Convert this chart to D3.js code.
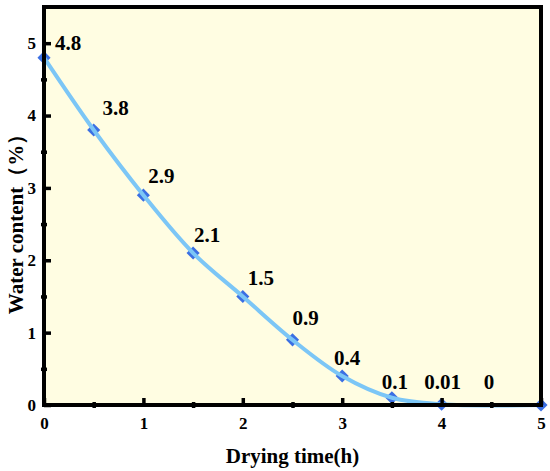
<!DOCTYPE html>
<html>
<head>
    <meta charset="utf-8">
    <title>Water content vs drying time</title>
    <script src="https://d3js.org/d3.v7.min.js"></script>
    <style>
        body { margin: 0; background: #fff; }
        text { font-family: "Liberation Serif", "Times New Roman", serif; font-weight: bold; fill: #000; }
    </style>
</head>
<body>
    <div id="chart"></div>
    <script>
        // data
        var dryingTime = [0, 0.5, 1, 1.5, 2, 2.5, 3, 3.5, 4, 5];
        var waterContent = [4.8, 3.8, 2.9, 2.1, 1.5, 0.9, 0.4, 0.1, 0.01, 0];
        var pointLabels = ["4.8", "3.8", "2.9", "2.1", "1.5", "0.9", "0.4", "0.1", "0.01", "0"];
        var xTicks = [0, 1, 2, 3, 4, 5];
        var yTicks = [0, 1, 2, 3, 4, 5];

        // hand placement of the value labels (pixels from each point)
        var labelShift = [[24, -8], [22, -15], [18, -12], [14, -11], [18, -11],
                          [13, -15], [5, -11], [3, -9], [1, -15], [-52, -16]];

        var width = 550, height = 471;
        // plot box (note: "top" is reserved on window, so use pLeft etc.)
        var pLeft = 44, pRight = 541, pTop = 7, pBottom = 405;

        var svg = d3.select("#chart").append("svg")
            .attr("width", width)
            .attr("height", height);

        var x = d3.scaleLinear().domain([0, 5]).range([pLeft, pRight]);
        var y = d3.scaleLinear().domain([0, 5.5]).range([pBottom, pTop]);

        // plot background
        svg.append("rect")
            .attr("x", pLeft).attr("y", pTop)
            .attr("width", pRight - pLeft).attr("height", pBottom - pTop)
            .attr("fill", "#fffde2");

        var pts = dryingTime.map(function (t, i) { return [t, waterContent[i]]; });

        // markers under the line
        svg.selectAll("path.mark")
            .data(pts)
            .enter()
            .append("path")
            .attr("class", "mark")
            .attr("d", d3.symbol().type(d3.symbolDiamond2).size(110))
            .attr("transform", function (d) { return "translate(" + x(d[0]) + "," + y(d[1]) + ")"; })
            .attr("fill", "#3b6fe3");

        var line = d3.line()
            .x(function (d) { return x(d[0]); })
            .y(function (d) { return y(d[1]); })
            .curve(d3.curveCatmullRom.alpha(0.5));

        svg.append("path")
            .datum(pts)
            .attr("d", line)
            .attr("fill", "none")
            .attr("stroke", "#7cc6f6")
            .attr("stroke-width", 4);

        // value labels
        svg.selectAll("text.val")
            .data(pts)
            .enter()
            .append("text")
            .attr("class", "val")
            .attr("x", function (d, i) { return x(d[0]) + labelShift[i][0]; })
            .attr("y", function (d, i) { return y(d[1]) + labelShift[i][1]; })
            .attr("text-anchor", "middle")
            .style("font-size", "21px")
            .text(function (d, i) { return pointLabels[i]; });

        // axes
        var xMinor = d3.range(0.5, 5, 1);
        var yMinor = d3.range(0.5, 5.5, 1);

        var gx = svg.append("g").attr("transform", "translate(0," + pBottom + ")");
        gx.call(d3.axisBottom(x).tickValues(xTicks).tickFormat(d3.format("d")).tickSizeInner(-7).tickSizeOuter(0).tickPadding(12));
        gx.append("g").call(d3.axisBottom(x).tickValues(xMinor).tickFormat("").tickSize(3).tickSizeOuter(0))
            .selectAll("line").attr("y1", -3);

        var gy = svg.append("g").attr("transform", "translate(" + pLeft + ",0)");
        gy.call(d3.axisLeft(y).tickValues(yTicks).tickFormat(d3.format("d")).tickSizeInner(-7).tickSizeOuter(0).tickPadding(8));
        gy.append("g").call(d3.axisLeft(y).tickValues(yMinor).tickFormat("").tickSize(3).tickSizeOuter(0))
            .selectAll("line").attr("x1", 3);

        svg.selectAll(".domain").remove();
        svg.selectAll(".tick line").attr("stroke", "#000").attr("stroke-width", 3.5);
        svg.selectAll(".tick text")
            .style("font-family", "'Liberation Serif', 'Times New Roman', serif")
            .style("font-weight", "bold")
            .style("font-size", "17px")
            .attr("fill", "#000");

        // frame
        svg.append("rect")
            .attr("x", pLeft).attr("y", pTop)
            .attr("width", pRight - pLeft).attr("height", pBottom - pTop)
            .attr("fill", "none")
            .attr("stroke", "#000")
            .attr("stroke-width", 4);

        // axis titles
        svg.append("text")
            .attr("x", (pLeft + pRight) / 2)
            .attr("y", 463)
            .attr("text-anchor", "middle")
            .style("font-size", "21px")
            .text("Drying time(h)");

        svg.append("text")
            .attr("transform", "translate(23," + 219 + ") rotate(-90)")
            .attr("text-anchor", "middle")
            .style("font-size", "21px")
            .text("Water content（%）");
    </script>
</body>
</html>
